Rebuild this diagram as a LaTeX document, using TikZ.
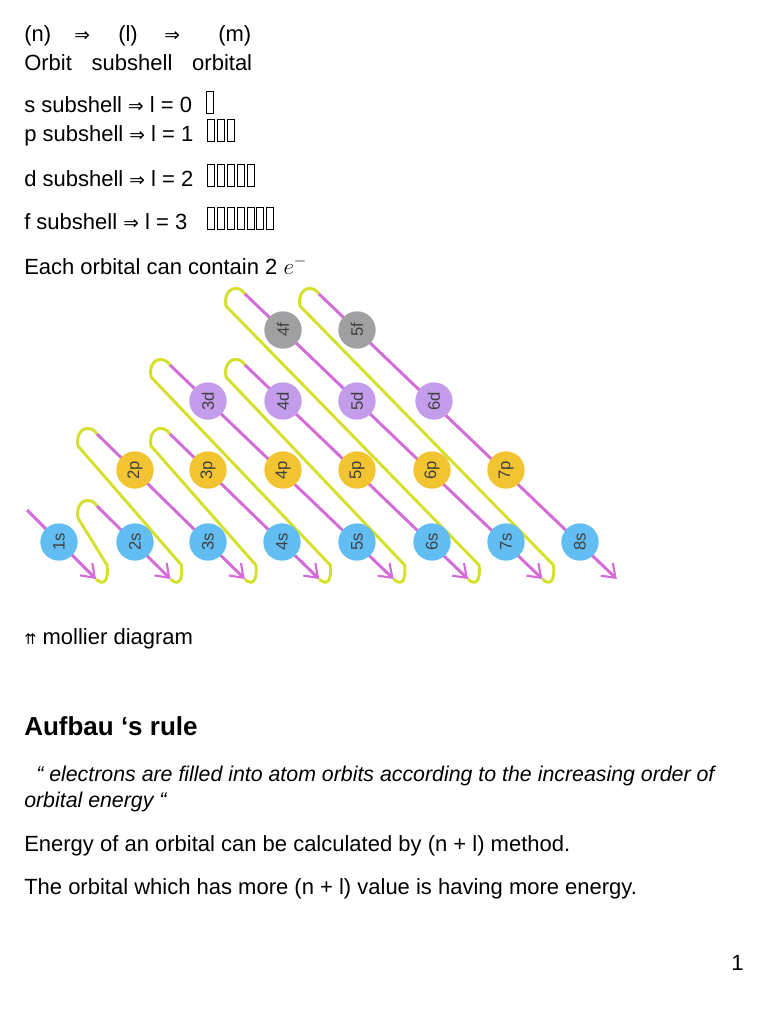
\documentclass[tikz,border=0pt]{standalone}
\usepackage{fontspec}
\setmainfont{Liberation Sans}
\newfontfamily\djv{DejaVu Sans}
\usetikzlibrary{arrows.meta,calc}
\newcommand{\tofu}{\kern0.08em{\fboxsep0pt\fboxrule0.7pt\fbox{\rule{0pt}{0.95em}\hspace{0.28em}}}}
\newcommand{\imp}{{\djv\fontsize{14}{16}\selectfont ⇒}}
\definecolor{mag}{HTML}{D46BD8}
\definecolor{yel}{HTML}{D4E02A}
\definecolor{cs}{HTML}{62BDF2}
\definecolor{cp}{HTML}{F2C431}
\definecolor{cd}{HTML}{C39CEC}
\definecolor{cf}{HTML}{A0A0A2}
\begin{document}
\begin{tikzpicture}[x=0.75pt,y=-0.75pt,
  txt/.style={anchor=base west,inner sep=0pt,font=\fontsize{16.5}{19}\selectfont},
  orb/.style={circle,minimum size=28pt,inner sep=0pt,text=black!75,font=\fontsize{12.5}{13}\selectfont,rotate=90},
  mg/.style={draw=mag,line width=2.2pt},
  yl/.style={draw=yel,line width=2.2pt},
  arr/.style={-{Straight Barb[length=9pt,width=13pt,line width=1.6pt]}}]
\useasboundingbox (0,0) rectangle (768,1024);
\node[txt] (t1) at (24,42) {(n)};
\node[txt] (t2) at (74,42) {\imp};
\node[txt] (t3) at (118,42) {(l)};
\node[txt] (t4) at (164,42) {\imp};
\node[txt] (t5) at (218,42) {(m)};
\node[txt] (t6) at (24,71) {Orbit\hspace{0.9em}subshell\hspace{0.9em}orbital};
\node[txt] (t7) at (24,113) {s subshell \imp\ l = 0 \ \tofu};
\node[txt] (t8) at (24,141) {p subshell \imp\ l = 1 \ \tofu\tofu\tofu};
\node[txt] (t9) at (24,186) {d subshell \imp\ l = 2 \ \tofu\tofu\tofu\tofu\tofu};
\node[txt] (t10) at (24,229) {f subshell \imp\ l = 3 \ \ \tofu\tofu\tofu\tofu\tofu\tofu\tofu};
\node[txt] (t11) at (24,274) {Each orbital can contain 2 $e^{-}$};
% diagram
\foreach \k/\tx/\ty in {1/59/542,2/135/542,3/135/470,4/208/470,5/208/401,6/283/401,7/283/330,8/357/330}{
  \pgfmathsetmacro{\bx}{59+74.4*(\k-1)+37}
  \coordinate (T\k) at (\tx-38,\ty-36);
  \coordinate (B\k) at (\bx,579);
}
\coordinate (T1) at (27,510);
\foreach \k [evaluate=\k as \n using int(\k+1)] in {1,...,7}{
  \path[yl] (B\k) .. controls ($(B\k)+(7,7)$) and ($(B\k)+(13,3)$) .. ($(B\k)+(11,-14)$)
    -- ($(T\n)+(-19,12)$) .. controls ($(T\n)+(-22,-7)$) and ($(T\n)+(-6,-10)$) .. (T\n);
}
\foreach \k in {1,...,8}{\path[mg,arr] (T\k) -- (B\k);}
\foreach \nm/\x/\y/\c in {1s/59/542/cs,2s/135/542/cs,3s/208/542/cs,4s/282/542/cs,5s/357/542/cs,6s/432/542/cs,7s/506/542/cs,8s/580/542/cs,
  2p/135/470/cp,3p/208/470/cp,4p/283/470/cp,5p/357/470/cp,6p/432/470/cp,7p/506/470/cp,
  3d/208/401/cd,4d/283/401/cd,5d/357/401/cd,6d/434/401/cd,4f/283/330/cf,5f/357/330/cf}{
  \node[orb,fill=\c] (o\nm) at (\x,\y) {\nm};
}
\node[txt] (t12) at (24,644) {{\djv\fontsize{11}{12}\selectfont ⇈}\ mollier diagram};
\node[txt,font=\fontsize{19.5}{22}\selectfont\bfseries] (t13) at (24,735) {Aufbau ‘s rule};
\node[txt,font=\fontsize{16}{18}\selectfont\itshape] (t14) at (36,781) {“ electrons are filled into atom orbits according to the increasing order of};
\node[txt,font=\fontsize{16}{18}\selectfont\itshape] (t15) at (24,807) {orbital energy “};
\node[txt] (t16) at (24,851) {Energy of an orbital can be calculated by (n + l) method.};
\node[txt] (t17) at (24,894) {The orbital which has more (n + l) value is having more energy.};
\node[txt] (t18) at (731,970) {1};
\end{tikzpicture}
\end{document}
